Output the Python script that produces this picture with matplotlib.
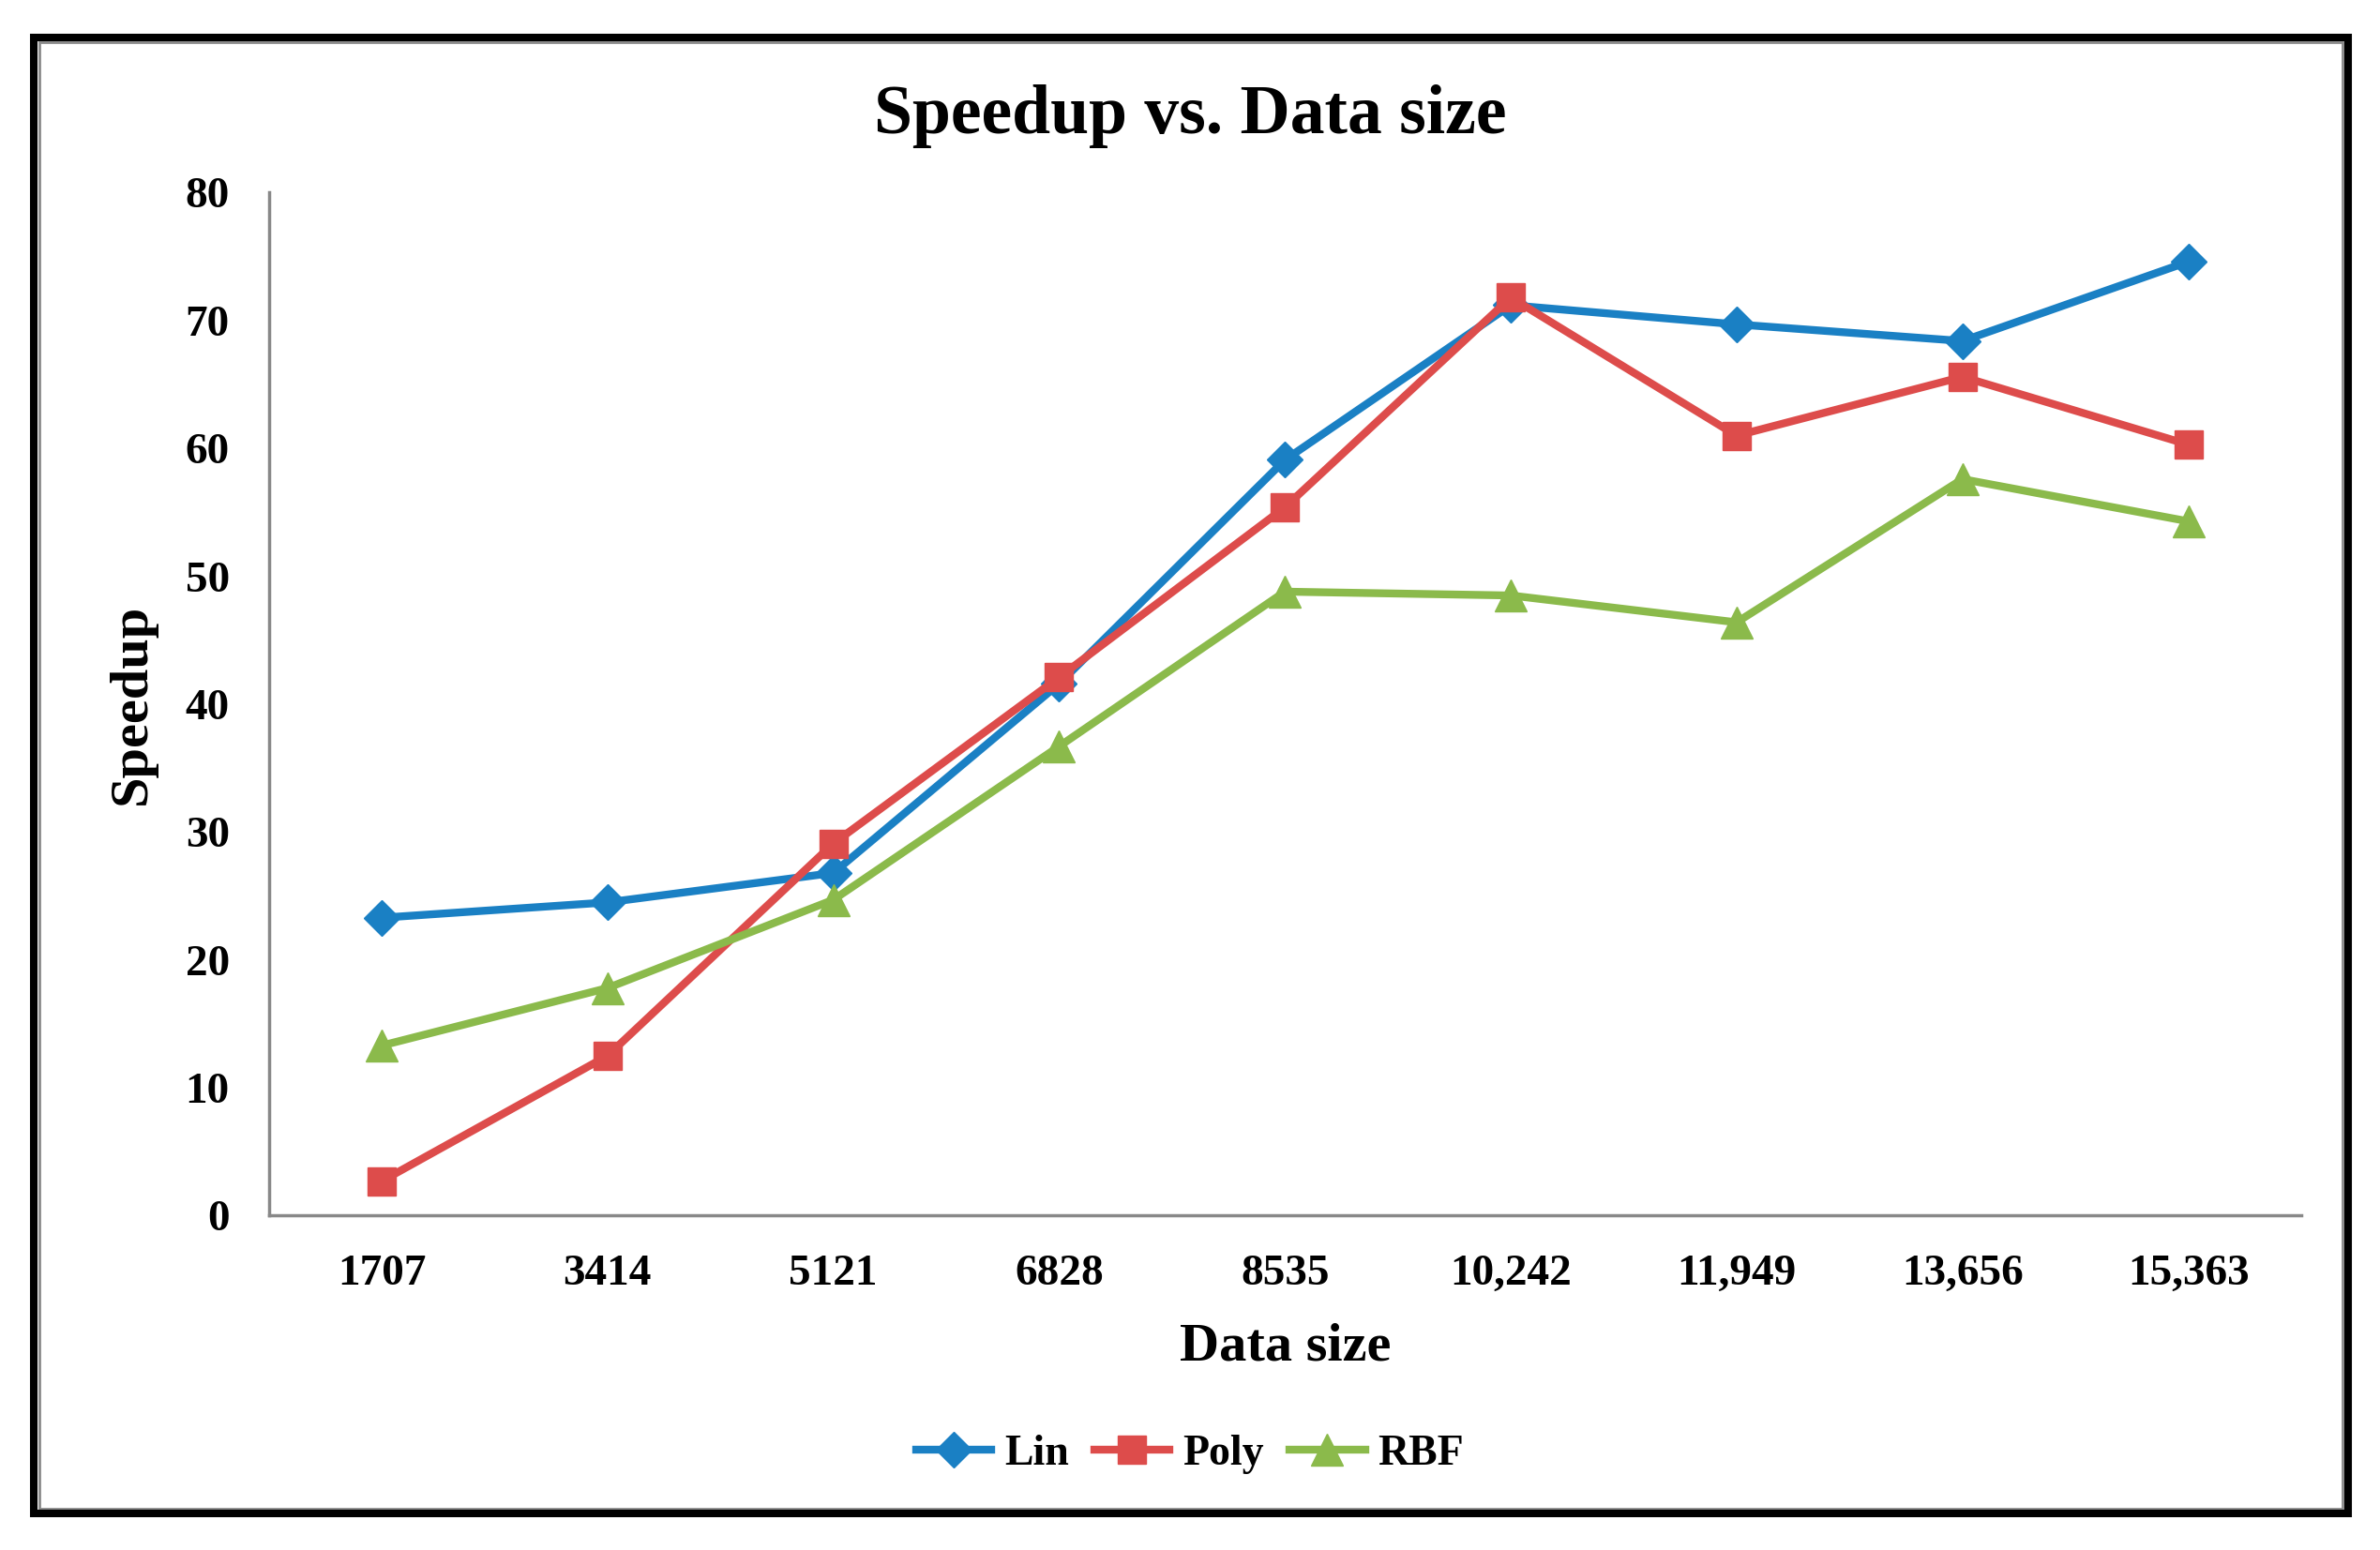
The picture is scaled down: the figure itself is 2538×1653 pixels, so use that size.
import matplotlib
matplotlib.use("Agg")
import matplotlib.pyplot as plt
from matplotlib.patches import Rectangle

# values
sizes = ["1707", "3414", "5121", "6828", "8535", "10,242", "11,949", "13,656", "15,363"]
lin = [23.3, 24.5, 26.8, 41.6, 59.1, 71.2, 69.7, 68.4, 74.6]
poly = [2.7, 12.5, 29.1, 42.1, 55.4, 71.8, 61.0, 65.6, 60.3]
rbf = [13.3, 17.8, 24.7, 36.7, 48.8, 48.5, 46.4, 57.6, 54.3]

plt.rcParams["font.family"] = ["Liberation Serif", "DejaVu Serif"]
plt.rcParams["font.weight"] = "bold"

fig = plt.figure(figsize=(25.38, 16.53), dpi=100)
ax = fig.add_axes([0.1129, 0.2157, 0.854, 0.66])

x = list(range(len(sizes)))
ax.plot(x, lin, color="#1a80c4", lw=6, marker="D", ms=19, label="Lin")
ax.plot(x, poly, color="#dd4c4b", lw=6, marker="s", ms=22, label="Poly")
ax.plot(x, rbf, color="#8bba4b", lw=6, marker="^", ms=24, label="RBF")

ax.set_xlim(-0.5, len(sizes) - 0.5)
ax.set_ylim(0, 80)
ax.set_yticks(range(0, 81, 10))
ax.set_xticks(x)
ax.set_xticklabels(sizes)
ax.tick_params(length=0, labelsize=34)
ax.tick_params(axis="x", pad=30)
ax.tick_params(axis="y", pad=30)
for lab in ax.get_xticklabels() + ax.get_yticklabels():
    lab.set_fontweight("bold")
for s in ["top", "right"]:
    ax.spines[s].set_visible(False)
for s in ["left", "bottom"]:
    ax.spines[s].set_color("#888888")
    ax.spines[s].set_linewidth(2.5)

ax.set_xlabel("Data size", fontsize=42, fontweight="bold", labelpad=22)
ax.set_ylabel("Speedup", fontsize=42, fontweight="bold", labelpad=22)
fig.text(0.5, 0.925, "Speedup vs. Data size", ha="center", va="center",
         fontsize=53, fontweight="bold")

leg = fig.legend(loc="center", bbox_to_anchor=(0.5, 0.062), ncol=3, frameon=False,
                 handlelength=1.75, columnspacing=0.6, handletextpad=0.3,
                 prop={"weight": "bold", "size": 33})

# outer frame with grey inner line
fig.patches.append(Rectangle((0.0164, 0.0266), 0.968, 0.9461, transform=fig.transFigure,
                             fill=False, edgecolor="#8a8a8a", lw=2))
fig.patches.append(Rectangle((0.0142, 0.0233), 0.9724, 0.9527, transform=fig.transFigure,
                             fill=False, edgecolor="black", lw=5.8))

fig.savefig("out.png", dpi=100)
